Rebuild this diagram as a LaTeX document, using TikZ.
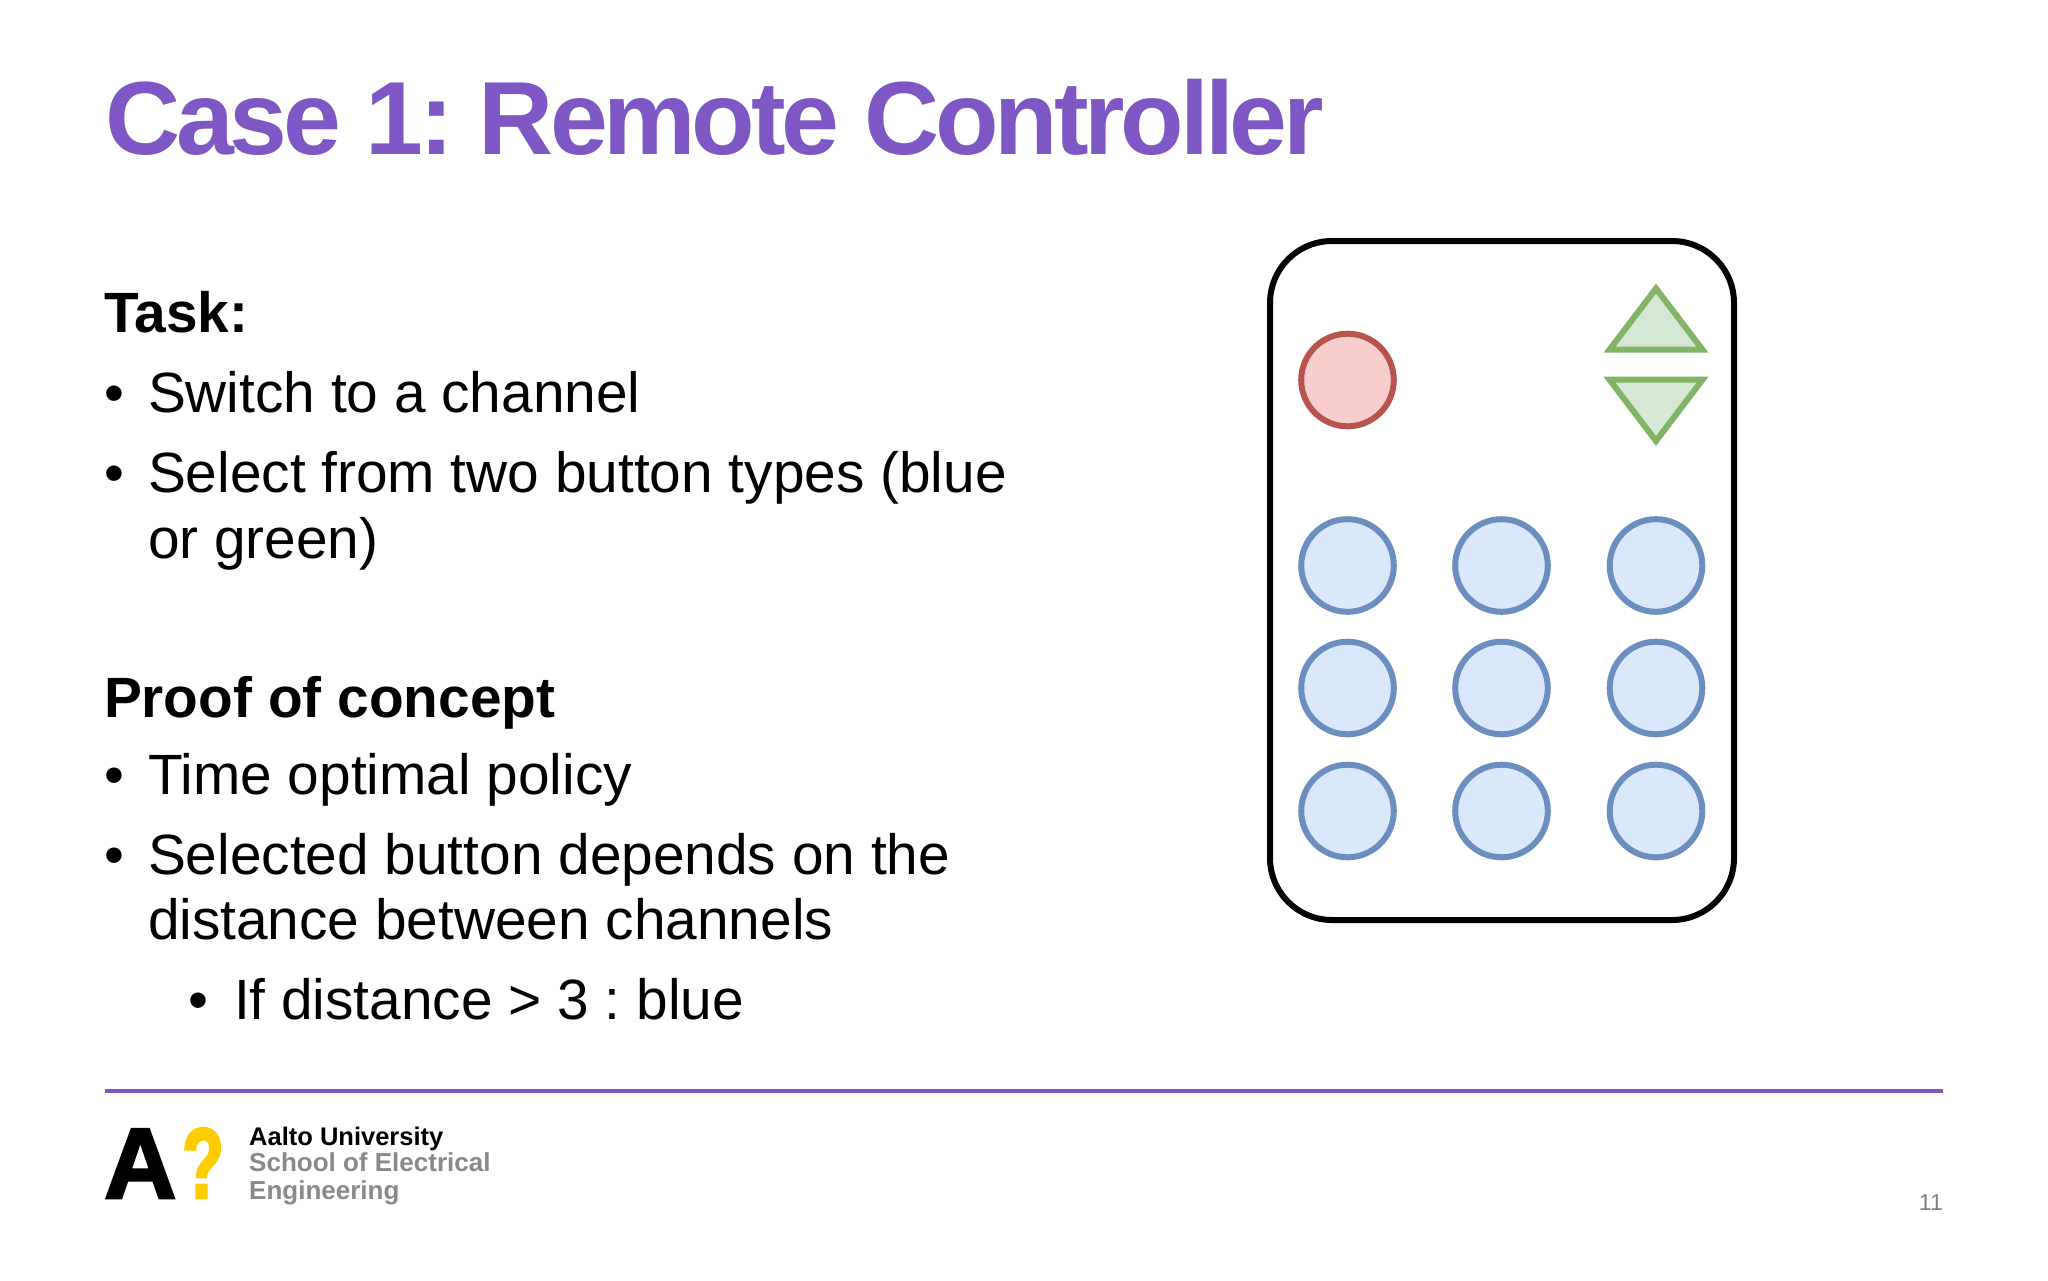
\documentclass[tikz,border=0pt]{standalone}
\usepackage{fontspec}
\setmainfont{Liberation Sans}
\newfontfamily\titlefont[LetterSpace=-4]{Liberation Sans Bold}
\newfontfamily\logofont[FakeBold=2.5]{Liberation Sans Bold}
\newfontfamily\logoqfont[FakeBold=2.5,FakeStretch=0.68]{Liberation Sans Bold}
\definecolor{purp}{HTML}{7E57C5}
\definecolor{blueF}{HTML}{DAE8FC}\definecolor{blueD}{HTML}{6C8EBF}
\definecolor{redF}{HTML}{F8CECC}\definecolor{redD}{HTML}{B85450}
\definecolor{greenF}{HTML}{D5E8D4}\definecolor{greenD}{HTML}{82B366}
\definecolor{footgray}{HTML}{8A8985}
\definecolor{aaltoY}{HTML}{FFCC00}
\tikzset{
 txt/.style={anchor=base west,inner sep=0pt,outer sep=0pt,font=\fontsize{56.8}{60}\selectfont\frenchspacing},
 head/.style={txt,font=\fontsize{56.8}{60}\selectfont\bfseries\frenchspacing},
 foot/.style={anchor=base west,inner sep=0pt,font=\fontsize{26}{28}\selectfont\bfseries},
 btn/.style={circle,minimum size=92.6pt,inner sep=0pt,line width=6pt},
 bluebtn/.style={btn,draw=blueD,fill=blueF},
 redbtn/.style={btn,draw=redD,fill=redF},
 tri/.style={draw=greenD,fill=greenF,line width=6pt,miter limit=10}
}
\begin{document}
\begin{tikzpicture}[x=1pt,y=-1pt]
\useasboundingbox (0,0) rectangle (2048,1280);
\fill[white] (0,0) rectangle (2048,1280);
\node[anchor=base west,inner sep=0pt,text=purp,font=\fontsize{104}{110}\titlefont\frenchspacing] (title) at (105,154) {Case 1: Remote Controller};
\node[head] (task) at (104,332) {Task:};
\node[txt] (b1) at (104,412) {•};
\node[txt] (t1) at (148,412) {Switch to a channel};
\node[txt] (b2) at (104,492) {•};
\node[txt] (t2) at (148,492) {Select from two button types (blue};
\node[txt] (t2b) at (148,558) {or green)};
\node[head] (proof) at (104,717) {Proof of concept};
\node[txt] (b3) at (104,794) {•};
\node[txt] (t3) at (148,794) {Time optimal policy};
\node[txt] (b4) at (104,874) {•};
\node[txt] (t4) at (148,874) {Selected button depends on the};
\node[txt] (t4b) at (148,939) {distance between channels};
\node[txt] (b5) at (188,1019) {•};
\node[txt] (t5) at (234,1019) {If distance > 3 : blue};
% remote
\draw[line width=6pt,rounded corners=62pt] (1270,241) rectangle (1734,920);
\node[redbtn] (red) at (1347.5,380) {};
\foreach \r/\y in {1/565.5,2/688,3/811}{
 \foreach \c/\x in {1/1347.5,2/1501.5,3/1656}{
  \node[bluebtn] (b\r\c) at (\x,\y) {};
 }
}
\draw[tri] (1656,288.5) -- (1702.5,349.7) -- (1609.5,349.7) -- cycle;
\draw[tri] (1609.5,379.7) -- (1702.5,379.7) -- (1656,441) -- cycle;
% footer
\draw[purp,line width=3.2pt] (105,1091) -- (1943,1091);
\node[anchor=base west,inner sep=0pt,font=\fontsize{100}{100}\logofont] (logoA) at (104,1198) {A};
\node[anchor=base west,inner sep=0pt,text=aaltoY,font=\fontsize{100}{100}\logoqfont] (logoQ) at (182,1198) {?};
\node[foot,font=\fontsize{25.5}{28}\selectfont\bfseries] (f1) at (249,1145) {Aalto University};
\node[foot,text=footgray] (f2) at (249,1171) {School of Electrical};
\node[foot,text=footgray] (f3) at (249,1199) {Engineering};
\node[anchor=base east,inner sep=0pt,text=gray,font=\fontsize{23}{26}\selectfont] (pg) at (1943,1210) {11};
\end{tikzpicture}
\end{document}
